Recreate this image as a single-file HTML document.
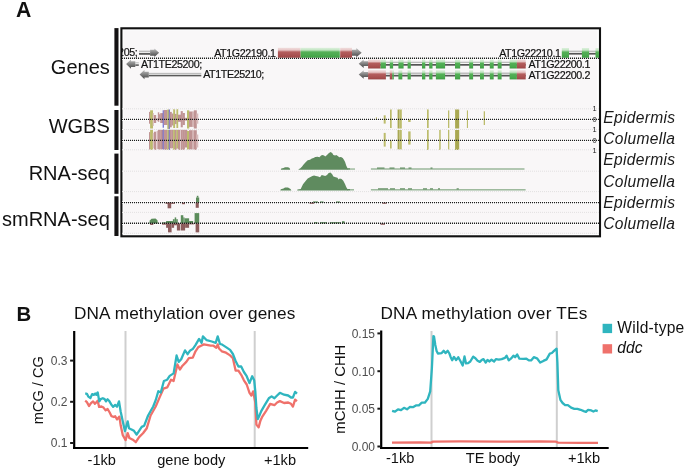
<!DOCTYPE html>
<html><head><meta charset="utf-8"><title>Figure</title>
<style>html,body{margin:0;padding:0;background:#fff;}
svg{display:block;font-family:"Liberation Sans", Arial, Helvetica, sans-serif;}</style></head>
<body><svg width="685" height="470" viewBox="0 0 685 470">
<defs>
<linearGradient id="gR" x1="0" y1="0" x2="0" y2="1">
<stop offset="0" stop-color="#f0dcdc"/><stop offset="0.22" stop-color="#e8c8c8"/>
<stop offset="0.42" stop-color="#b45e5e"/><stop offset="0.85" stop-color="#a64d4d"/><stop offset="1" stop-color="#964444"/></linearGradient>
<linearGradient id="gG" x1="0" y1="0" x2="0" y2="1">
<stop offset="0" stop-color="#dcf0dc"/><stop offset="0.22" stop-color="#c4e6c4"/>
<stop offset="0.42" stop-color="#55b058"/><stop offset="0.85" stop-color="#47a84b"/><stop offset="1" stop-color="#3a9540"/></linearGradient>
<linearGradient id="gA" x1="0" y1="0" x2="0" y2="1">
<stop offset="0" stop-color="#c4c4c4"/><stop offset="0.35" stop-color="#939393"/>
<stop offset="0.7" stop-color="#666"/><stop offset="1" stop-color="#4e4e4e"/></linearGradient>
<clipPath id="boxclip"><rect x="122" y="29" width="477" height="206"/></clipPath>
</defs>
<text x="15.9" y="16.6" font-size="21.2" font-weight="bold" fill="#111">A</text>
<text x="16.4" y="320.7" font-size="20.4" font-weight="bold" fill="#111">B</text>
<rect x="114.4" y="28.1" width="4.1" height="77.6" fill="#141213"/>
<rect x="114.4" y="110.0" width="4.1" height="40.0" fill="#141213"/>
<rect x="114.4" y="153.6" width="4.1" height="40.2" fill="#141213"/>
<rect x="114.4" y="196.3" width="4.1" height="39.7" fill="#141213"/>
<rect x="121.4" y="28.3" width="478.6" height="208" fill="#fff" stroke="#111" stroke-width="2.1"/>
<rect x="123.6" y="30.4" width="473.8" height="203.8" fill="#f9f7f8"/>
<text x="109.8" y="73.9" font-size="20.0" text-anchor="end" fill="#111">Genes</text>
<text x="109.8" y="133.2" font-size="20.0" text-anchor="end" fill="#111">WGBS</text>
<text x="109.8" y="180.0" font-size="20.0" text-anchor="end" fill="#111">RNA-seq</text>
<text x="109.8" y="225.6" font-size="20.0" text-anchor="end" fill="#111">smRNA-seq</text>
<text x="603.3" y="122.6" font-size="15.6" letter-spacing="0.3" font-style="italic" fill="#1a1a1a">Epidermis</text>
<text x="603.3" y="143.8" font-size="15.6" letter-spacing="0.3" font-style="italic" fill="#1a1a1a">Columella</text>
<text x="603.3" y="165.3" font-size="15.6" letter-spacing="0.3" font-style="italic" fill="#1a1a1a">Epidermis</text>
<text x="603.3" y="186.6" font-size="15.6" letter-spacing="0.3" font-style="italic" fill="#1a1a1a">Columella</text>
<text x="603.3" y="207.8" font-size="15.6" letter-spacing="0.3" font-style="italic" fill="#1a1a1a">Epidermis</text>
<text x="603.3" y="229.0" font-size="15.6" letter-spacing="0.3" font-style="italic" fill="#1a1a1a">Columella</text>
<line x1="122" y1="58.3" x2="599" y2="58.3" stroke="#fff" stroke-width="2.8"/>
<line x1="122" y1="119.4" x2="599" y2="119.4" stroke="#fff" stroke-width="2.8"/>
<line x1="122" y1="140.4" x2="599" y2="140.4" stroke="#fff" stroke-width="2.8"/>
<line x1="122" y1="202.6" x2="599" y2="202.6" stroke="#fff" stroke-width="2.8"/>
<line x1="122" y1="223.3" x2="599" y2="223.3" stroke="#fff" stroke-width="2.8"/>
<g clip-path="url(#boxclip)">
<rect x="149.0" y="111.9" width="1.4" height="11.8" fill="#c09494"/>
<rect x="149.0" y="132.1" width="1.4" height="17.4" fill="#c09494"/>
<rect x="150.1" y="110.3" width="2.9" height="18.2" fill="#bcbc6c"/>
<rect x="150.1" y="129.8" width="2.9" height="20.1" fill="#bcbc6c"/>
<rect x="152.7" y="113.0" width="1.1" height="13.0" fill="#d9bcbc"/>
<rect x="152.7" y="132.9" width="1.1" height="15.4" fill="#d9bcbc"/>
<rect x="153.9" y="115.0" width="2.3" height="8.0" fill="#c09494"/>
<rect x="153.9" y="131.7" width="2.3" height="18.2" fill="#c09494"/>
<rect x="156.6" y="118.0" width="1.5" height="3.0" fill="#d9bcbc"/>
<rect x="156.6" y="131.0" width="1.5" height="18.0" fill="#d9bcbc"/>
<rect x="157.8" y="112.3" width="1.5" height="9.5" fill="#c09494"/>
<rect x="157.8" y="129.8" width="1.5" height="19.7" fill="#c09494"/>
<rect x="159.0" y="114.3" width="1.5" height="5.5" fill="#c09494"/>
<rect x="159.0" y="129.8" width="1.5" height="19.7" fill="#c09494"/>
<rect x="160.2" y="113.1" width="2.9" height="9.9" fill="#c09494"/>
<rect x="160.2" y="129.8" width="2.9" height="19.7" fill="#c09494"/>
<rect x="162.70000000000002" y="110.3" width="1.1" height="17.4" fill="#5a5ad4"/>
<rect x="162.70000000000002" y="129.4" width="1.1" height="20.1" fill="#5a5ad4"/>
<rect x="163.7" y="110.0" width="3.9" height="15.0" fill="#c09494"/>
<rect x="163.7" y="129.8" width="3.9" height="20.1" fill="#c09494"/>
<rect x="167.3" y="109.5" width="1.5" height="19.4" fill="#bcbc6c"/>
<rect x="167.3" y="129.8" width="1.5" height="20.1" fill="#bcbc6c"/>
<rect x="168.5" y="109.5" width="0.7" height="19.4" fill="#a9a852"/>
<rect x="168.5" y="129.8" width="0.7" height="20.1" fill="#a9a852"/>
<rect x="168.8" y="109.5" width="1.0" height="19.4" fill="#5a5ad4"/>
<rect x="168.8" y="129.8" width="1.0" height="20.1" fill="#5a5ad4"/>
<rect x="169.7" y="111.9" width="2.1" height="15.4" fill="#c09494"/>
<rect x="169.7" y="129.8" width="2.1" height="18.5" fill="#c09494"/>
<rect x="171.5" y="113.5" width="2.0" height="12.0" fill="#c09494"/>
<rect x="171.5" y="129.8" width="2.0" height="18.5" fill="#c09494"/>
<rect x="173.2" y="109.2" width="1.9" height="18.8" fill="#bcbc6c"/>
<rect x="173.2" y="129.8" width="1.9" height="20.1" fill="#bcbc6c"/>
<rect x="174.8" y="113.9" width="1.9" height="10.2" fill="#c09494"/>
<rect x="174.8" y="129.8" width="1.9" height="20.1" fill="#c09494"/>
<rect x="176.4" y="109.2" width="1.8" height="18.8" fill="#bcbc6c"/>
<rect x="176.4" y="129.8" width="1.8" height="18.7" fill="#bcbc6c"/>
<rect x="177.9" y="114.7" width="2.3" height="7.1" fill="#c09494"/>
<rect x="177.9" y="129.8" width="2.3" height="20.1" fill="#c09494"/>
<rect x="179.9" y="114.7" width="1.1" height="7.1" fill="#c09494"/>
<rect x="179.9" y="140.0" width="1.1" height="1.0" fill="#c09494"/>
<rect x="180.7" y="111.1" width="2.1" height="16.2" fill="#c09494"/>
<rect x="180.7" y="129.8" width="2.1" height="20.1" fill="#c09494"/>
<rect x="182.5" y="113.0" width="2.4" height="12.0" fill="#c09494"/>
<rect x="182.5" y="129.8" width="2.4" height="20.1" fill="#c09494"/>
<rect x="184.6" y="117.8" width="2.7" height="2.8" fill="#c09494"/>
<rect x="184.6" y="129.8" width="2.7" height="17.7" fill="#c09494"/>
<rect x="187.0" y="110.3" width="2.3" height="18.2" fill="#bcbc6c"/>
<rect x="187.0" y="131.0" width="2.3" height="18.5" fill="#bcbc6c"/>
<rect x="189.0" y="111.5" width="3.8" height="15.4" fill="#c09494"/>
<rect x="189.0" y="130.2" width="3.8" height="19.3" fill="#c09494"/>
<rect x="192.5" y="111.5" width="1.6" height="15.4" fill="#d9bcbc"/>
<rect x="192.5" y="130.2" width="1.6" height="19.3" fill="#d9bcbc"/>
<rect x="193.8" y="110.3" width="3.0" height="18.2" fill="#c09494"/>
<rect x="193.8" y="130.2" width="3.0" height="19.7" fill="#c09494"/>
<rect x="196.5" y="113.5" width="1.8" height="10.2" fill="#d9bcbc"/>
<rect x="196.5" y="134.5" width="1.8" height="13.0" fill="#d9bcbc"/>
<rect x="375.9" y="117.2" width="0.9" height="2.3" fill="#bcbc6c"/>
<rect x="383.7" y="115.3" width="2.0" height="8.3" fill="#bcbc6c"/>
<rect x="383.7" y="132.9" width="2.0" height="13.7" fill="#bcbc6c"/>
<rect x="390.0" y="109.4" width="1.7" height="18.6" fill="#bcbc6c"/>
<rect x="390.0" y="140.7" width="1.7" height="7.8" fill="#bcbc6c"/>
<rect x="397.6" y="109.4" width="2.0" height="19.1" fill="#a9a852"/>
<rect x="397.6" y="130.0" width="2.0" height="19.5" fill="#a9a852"/>
<rect x="399.6" y="109.4" width="2.2" height="19.1" fill="#bcbc6c"/>
<rect x="399.6" y="130.0" width="2.2" height="19.5" fill="#bcbc6c"/>
<rect x="408.2" y="119.6" width="2.4" height="2.4" fill="#bcbc6c"/>
<rect x="408.2" y="131.4" width="2.4" height="13.2" fill="#bcbc6c"/>
<rect x="427.0" y="109.4" width="1.7" height="18.6" fill="#bcbc6c"/>
<rect x="427.0" y="130.0" width="1.7" height="20.0" fill="#bcbc6c"/>
<rect x="439.2" y="130.0" width="1.5" height="20.0" fill="#bcbc6c"/>
<rect x="448.0" y="110.4" width="1.3" height="17.6" fill="#bcbc6c"/>
<rect x="448.0" y="130.0" width="1.3" height="20.0" fill="#bcbc6c"/>
<rect x="455.1" y="109.4" width="4.1" height="19.1" fill="#a9a852"/>
<rect x="455.1" y="130.0" width="4.1" height="20.0" fill="#a9a852"/>
<rect x="466.9" y="110.4" width="1.1" height="17.6" fill="#bcbc6c"/>
<rect x="483.7" y="111.3" width="1.3" height="13.7" fill="#bcbc6c"/>
<polygon points="298.4,169.7 298.9,169 300.1,168.4 301.9,166.7 303.6,164.4 305.4,162.6 307.7,160.3 310,159.7 311.8,158.5 313.5,157.9 315.3,157.1 317.6,156.8 319.4,157.3 321.1,155.6 322.3,155 324.1,155.6 325.2,156.4 327,155 328.7,153.3 330.5,152.1 332.2,152.9 333.4,155 335.1,155.6 336.3,155 338.1,156.2 339.2,157.3 341,157.1 342.7,157.9 343.9,159.7 345.1,162 346.2,165.5 347.4,167.9 347.6,169.7" fill="#5f8b5f"/>
<polygon points="297.2,190.5 297.4,189.5 300.7,188.9 301.9,186.5 303,184.2 305.4,181.3 307.7,178.4 310,177.2 312.4,176 314.1,175.4 315.9,176 318.2,176.6 320,177.2 321.7,174.9 323.5,175.4 325.2,176 327,174.9 328.7,173.1 330.5,172.5 332.2,174.3 333.4,176.6 335.7,177.2 337.5,177.8 338.6,179.5 339.8,178.6 341.6,179 343.3,180.7 345.1,184.2 346.2,187.1 347.4,188.9 347.6,190.5" fill="#5f8b5f"/>
<polygon points="280.8,169.7 281.2,168.4 283.5,167.9 285,167.2 288,167.2 289.6,168.1 290.2,169.7" fill="#5f8b5f"/>
<polygon points="280.3,190.5 280.8,189.2 283.5,188.6 285,187.6 288,187.6 290.5,189 291.4,190.5" fill="#5f8b5f"/>
<rect x="347" y="168.2" width="3" height="1.5" fill="#5f8b5f"/>
<rect x="350" y="168.4" width="5" height="1.3" fill="#94b394"/>
<rect x="347" y="189" width="3" height="1.5" fill="#5f8b5f"/>
<rect x="350" y="189.1" width="4" height="1.4" fill="#94b394"/>
<rect x="370.9" y="168.3" width="153.6" height="1.4" fill="#94b394"/>
<rect x="370.9" y="189.1" width="154.7" height="1.4" fill="#94b394"/>
<rect x="377" y="167.5" width="7.5" height="1.2" fill="#5f8b5f"/>
<rect x="389.5" y="167.5" width="5.0" height="1.2" fill="#5f8b5f"/>
<rect x="400" y="167.5" width="5.0" height="1.2" fill="#5f8b5f"/>
<rect x="408.5" y="167.5" width="3.0" height="1.2" fill="#5f8b5f"/>
<rect x="430.5" y="167.5" width="2.0" height="1.2" fill="#5f8b5f"/>
<rect x="378" y="188.3" width="10.0" height="1.2" fill="#5f8b5f"/>
<rect x="390" y="188.3" width="5.0" height="1.2" fill="#5f8b5f"/>
<rect x="400" y="188.3" width="5.0" height="1.2" fill="#5f8b5f"/>
<rect x="408" y="188.3" width="4.0" height="1.2" fill="#5f8b5f"/>
<rect x="423" y="188.3" width="4.0" height="1.2" fill="#5f8b5f"/>
<rect x="430" y="188.3" width="3.0" height="1.2" fill="#5f8b5f"/>
<rect x="438" y="188.3" width="2.0" height="1.2" fill="#5f8b5f"/>
<rect x="456.6" y="188.3" width="2.2" height="1.2" fill="#5f8b5f"/>
<rect x="196.0" y="197.5" width="3.2" height="5.1" fill="#5b8c5b"/>
<rect x="196.8" y="195.8" width="1.6" height="1.8" fill="#5b8c5b"/>
<rect x="167.6" y="202.6" width="3.6" height="5.7" fill="#8c5c5c"/>
<rect x="165.5" y="202.6" width="9.5" height="1.2" fill="#8c5c5c"/>
<rect x="181.9" y="202.6" width="3.1" height="1.6" fill="#8c5c5c"/>
<rect x="195.7" y="202.6" width="3.1" height="5.2" fill="#8c5c5c"/>
<rect x="313" y="201.4" width="5.0" height="1.2" fill="#5b8c5b"/>
<rect x="320" y="201.4" width="3.6" height="1.2" fill="#5b8c5b"/>
<rect x="336" y="201.4" width="4.0" height="1.2" fill="#5b8c5b"/>
<rect x="309.6" y="202.6" width="4.4" height="1.2" fill="#8c5c5c"/>
<rect x="382.3" y="202.6" width="4.4" height="1.2" fill="#8c5c5c"/>
<polygon points="149.2,223.4 149.8,220.5 151.5,218.8 155.5,218.6 157.5,220.3 157.9,223.4" fill="#5b8c5b"/>
<rect x="150.2" y="223.4" width="3.1" height="1.6" fill="#8c5c5c"/>
<rect x="162.1" y="222.3" width="4.0" height="1.1" fill="#5b8c5b"/>
<rect x="166.1" y="221.0" width="6.8" height="2.4" fill="#5b8c5b"/>
<rect x="172.9" y="219.2" width="1.8" height="4.2" fill="#5b8c5b"/>
<rect x="174.7" y="217.4" width="1.5" height="6.0" fill="#5b8c5b"/>
<rect x="176.2" y="219.2" width="1.6" height="4.2" fill="#5b8c5b"/>
<rect x="180.8" y="215.2" width="2.5" height="8.2" fill="#5b8c5b"/>
<rect x="183.3" y="217.4" width="1.2" height="6.0" fill="#5b8c5b"/>
<rect x="184.5" y="218.3" width="4.6" height="5.1" fill="#5b8c5b"/>
<rect x="189.1" y="221.0" width="4.0" height="2.4" fill="#5b8c5b"/>
<rect x="194.6" y="213.1" width="4.6" height="10.3" fill="#5b8c5b"/>
<rect x="162.1" y="223.4" width="4.0" height="1.3" fill="#8c5c5c"/>
<rect x="166.1" y="223.4" width="1.9" height="4.4" fill="#8c5c5c"/>
<rect x="168.0" y="223.4" width="3.6" height="9.0" fill="#8c5c5c"/>
<rect x="171.6" y="223.4" width="2.5" height="4.4" fill="#8c5c5c"/>
<rect x="174.1" y="223.4" width="2.8" height="1.9" fill="#8c5c5c"/>
<rect x="176.9" y="223.4" width="3.3" height="7.1" fill="#8c5c5c"/>
<rect x="180.8" y="223.4" width="4.3" height="7.1" fill="#8c5c5c"/>
<rect x="185.1" y="223.4" width="4.0" height="4.4" fill="#8c5c5c"/>
<rect x="189.1" y="223.4" width="5.2" height="1.0" fill="#8c5c5c"/>
<rect x="195.6" y="223.4" width="3.6" height="9.0" fill="#8c5c5c"/>
<rect x="314" y="222.2" width="3.5" height="1.2" fill="#5b8c5b"/>
<rect x="320" y="222.2" width="7.0" height="1.2" fill="#5b8c5b"/>
<rect x="329.8" y="222.2" width="11.2" height="1.2" fill="#5b8c5b"/>
<rect x="342" y="221.2" width="2.6" height="2.2" fill="#5b8c5b"/>
<rect x="380.5" y="223.4" width="4.5" height="1.4" fill="#8c5c5c"/>
</g>
<line x1="122" y1="108.8" x2="599" y2="108.8" stroke="#e2e0e1" stroke-width="1" stroke-dasharray="1 1"/>
<line x1="122" y1="129.5" x2="599" y2="129.5" stroke="#e2e0e1" stroke-width="1" stroke-dasharray="1 1"/>
<line x1="122" y1="149.8" x2="599" y2="149.8" stroke="#e2e0e1" stroke-width="1" stroke-dasharray="1 1"/>
<line x1="122" y1="171.2" x2="599" y2="171.2" stroke="#e2e0e1" stroke-width="1" stroke-dasharray="1 1"/>
<line x1="122" y1="191.6" x2="599" y2="191.6" stroke="#e2e0e1" stroke-width="1" stroke-dasharray="1 1"/>
<line x1="122" y1="212.4" x2="599" y2="212.4" stroke="#e2e0e1" stroke-width="1" stroke-dasharray="1 1"/>
<line x1="122" y1="233.3" x2="599" y2="233.3" stroke="#e2e0e1" stroke-width="1" stroke-dasharray="1 1"/>
<line x1="122" y1="58.3" x2="599" y2="58.3" stroke="#1c1c1c" stroke-width="1.4" stroke-dasharray="1.1 0.9"/>
<line x1="122" y1="119.4" x2="599" y2="119.4" stroke="#1c1c1c" stroke-width="1.4" stroke-dasharray="1.1 0.9"/>
<line x1="122" y1="140.4" x2="599" y2="140.4" stroke="#1c1c1c" stroke-width="1.4" stroke-dasharray="1.1 0.9"/>
<line x1="122" y1="202.6" x2="599" y2="202.6" stroke="#1c1c1c" stroke-width="1.4" stroke-dasharray="1.1 0.9"/>
<line x1="122" y1="223.3" x2="599" y2="223.3" stroke="#1c1c1c" stroke-width="1.4" stroke-dasharray="1.1 0.9"/>
<text x="596.6" y="110.6" font-size="7.4" text-anchor="end" fill="#222">1</text>
<text x="596.6" y="122.0" font-size="7.4" text-anchor="end" fill="#222">0</text>
<text x="596.6" y="131.8" font-size="7.4" text-anchor="end" fill="#222">1</text>
<text x="596.6" y="143.0" font-size="7.4" text-anchor="end" fill="#222">0</text>
<text x="596.6" y="152.6" font-size="7.4" text-anchor="end" fill="#222">1</text>
<g clip-path="url(#boxclip)">
<text x="137.3" y="56.3" font-size="10.7" letter-spacing="-0.4" fill="#111" stroke="#111" stroke-width="0.2" text-anchor="end">AT1TE25205;</text>
<rect x="139.0" y="50.60" width="11.1" height="1.43" fill="#bdbdbd"/><rect x="139.0" y="52.03" width="11.1" height="0.92" fill="#f4f4f4"/><rect x="139.0" y="52.95" width="11.1" height="1.85" fill="#5a5a5a"/><polygon points="159.1,52.7 154.4,48.5 154.4,49.8 150.1,49.8 150.1,55.7 154.4,55.7 154.4,56.9" fill="url(#gA)"/>
<rect x="135.3" y="62.30" width="3.5" height="1.22" fill="#bdbdbd"/><rect x="135.3" y="63.52" width="3.5" height="0.79" fill="#f4f4f4"/><rect x="135.3" y="64.32" width="3.5" height="1.58" fill="#5a5a5a"/><polygon points="126.1,64.1 131.0,59.5 131.0,61.2 135.3,61.2 135.3,67.0 131.0,67.0 131.0,68.7" fill="url(#gA)"/>
<text x="141.0" y="67.7" font-size="10.7" letter-spacing="-0.4" fill="#111" stroke="#111" stroke-width="0.2">AT1TE25200;</text>
<rect x="148.8" y="72.85" width="52.5" height="1.19" fill="#bdbdbd"/><rect x="148.8" y="74.04" width="52.5" height="0.77" fill="#f4f4f4"/><rect x="148.8" y="74.81" width="52.5" height="1.54" fill="#5a5a5a"/><polygon points="139.6,74.6 144.5,69.8 144.5,71.8 148.8,71.8 148.8,77.4 144.5,77.4 144.5,79.3" fill="url(#gA)"/>
<text x="203.2" y="78.1" font-size="10.7" letter-spacing="-0.4" fill="#111" stroke="#111" stroke-width="0.2">AT1TE25210;</text>
<text x="275.5" y="57.0" font-size="10.7" letter-spacing="-0.4" fill="#111" stroke="#111" stroke-width="0.2" text-anchor="end">AT1G22190.1</text>
<rect x="277.9" y="47.8" width="22.7" height="9.9" fill="url(#gR)"/>
<rect x="300.6" y="47.8" width="39.2" height="9.9" fill="url(#gG)"/>
<rect x="340.2" y="47.8" width="11.8" height="9.9" fill="url(#gR)"/>
<polygon points="361.7,52.7 356.3,48.1 356.3,49.7 352.0,49.7 352.0,55.7 356.3,55.7 356.3,57.3" fill="url(#gA)"/>
<rect x="368.0" y="61.7" width="157.7" height="1.5" fill="#bdbdbd"/><rect x="368.0" y="63.2" width="157.7" height="0.8" fill="#fafafa"/><rect x="368.0" y="64.0" width="157.7" height="1.7" fill="#555"/>
<polygon points="358.7,63.7 363.7,59.5 363.7,61.3 368.2,61.3 368.2,66.1 363.7,66.1 363.7,67.9" fill="url(#gA)"/>
<rect x="368.1" y="59.5" width="12.5" height="9.0" fill="url(#gR)"/>
<rect x="380.6" y="59.5" width="5.3" height="9.0" fill="url(#gG)"/>
<rect x="389.8" y="59.5" width="3.3" height="9.0" fill="url(#gG)"/>
<rect x="398.4" y="59.5" width="5.2" height="9.0" fill="url(#gG)"/>
<rect x="407.6" y="59.5" width="3.2" height="9.0" fill="url(#gG)"/>
<rect x="422.0" y="59.5" width="3.3" height="9.0" fill="url(#gG)"/>
<rect x="429.2" y="59.5" width="3.3" height="9.0" fill="url(#gG)"/>
<rect x="435.9" y="59.5" width="9.2" height="9.0" fill="url(#gG)"/>
<rect x="455.0" y="59.5" width="5.2" height="9.0" fill="url(#gG)"/>
<rect x="469.2" y="59.5" width="3.9" height="9.0" fill="url(#gG)"/>
<rect x="480.0" y="59.5" width="3.9" height="9.0" fill="url(#gG)"/>
<rect x="489.8" y="59.5" width="3.9" height="9.0" fill="url(#gG)"/>
<rect x="497.7" y="59.5" width="3.9" height="9.0" fill="url(#gG)"/>
<rect x="509.6" y="59.5" width="7.3" height="9.0" fill="url(#gG)"/>
<rect x="516.9" y="59.5" width="8.8" height="9.0" fill="url(#gR)"/>
<rect x="368.0" y="72.5" width="157.7" height="1.5" fill="#bdbdbd"/><rect x="368.0" y="74.0" width="157.7" height="0.8" fill="#fafafa"/><rect x="368.0" y="74.8" width="157.7" height="1.7" fill="#555"/>
<polygon points="358.7,74.5 363.7,70.3 363.7,72.1 368.2,72.1 368.2,76.9 363.7,76.9 363.7,78.7" fill="url(#gA)"/>
<rect x="368.1" y="70.2" width="17.8" height="9.2" fill="url(#gR)"/>
<rect x="389.8" y="70.2" width="2.5" height="9.2" fill="url(#gR)"/>
<rect x="392.3" y="70.2" width="1.5" height="9.2" fill="url(#gG)"/>
<rect x="398.4" y="70.2" width="3.9" height="9.2" fill="url(#gG)"/>
<rect x="407.6" y="70.2" width="3.2" height="9.2" fill="url(#gG)"/>
<rect x="422.0" y="70.2" width="3.3" height="9.2" fill="url(#gG)"/>
<rect x="429.2" y="70.2" width="3.3" height="9.2" fill="url(#gG)"/>
<rect x="435.9" y="70.2" width="9.2" height="9.2" fill="url(#gG)"/>
<rect x="455.0" y="70.2" width="5.2" height="9.2" fill="url(#gG)"/>
<rect x="469.2" y="70.2" width="3.9" height="9.2" fill="url(#gG)"/>
<rect x="480.0" y="70.2" width="3.9" height="9.2" fill="url(#gG)"/>
<rect x="489.8" y="70.2" width="3.9" height="9.2" fill="url(#gG)"/>
<rect x="497.7" y="70.2" width="3.9" height="9.2" fill="url(#gG)"/>
<rect x="509.6" y="70.2" width="7.3" height="9.2" fill="url(#gG)"/>
<rect x="516.9" y="70.2" width="8.8" height="9.2" fill="url(#gR)"/>
<text x="528.6" y="67.6" font-size="10.7" letter-spacing="-0.4" fill="#111" stroke="#111" stroke-width="0.2">AT1G22200.1</text>
<text x="528.6" y="78.5" font-size="10.7" letter-spacing="-0.4" fill="#111" stroke="#111" stroke-width="0.2">AT1G22200.2</text>
<text x="560.5" y="56.9" font-size="10.7" letter-spacing="-0.4" fill="#111" stroke="#111" stroke-width="0.2" text-anchor="end">AT1G22210.1</text>
<rect x="562.0" y="50.6" width="37.5" height="1.5" fill="#bdbdbd"/><rect x="562.0" y="52.1" width="37.5" height="0.8" fill="#fafafa"/><rect x="562.0" y="52.9" width="37.5" height="1.7" fill="#555"/>
<rect x="561.8" y="48.0" width="7.2" height="9.7" fill="url(#gG)"/>
<rect x="581.9" y="48.0" width="7.2" height="9.7" fill="url(#gG)"/>
<rect x="595.5" y="48.0" width="4.5" height="9.7" fill="url(#gG)"/>
</g>
<text x="74.0" y="318.8" font-size="17.2" letter-spacing="0.14" fill="#111">DNA methylation over genes</text>
<line x1="125.5" y1="331" x2="125.5" y2="447" stroke="#cfcfcf" stroke-width="2"/>
<line x1="254.7" y1="331" x2="254.7" y2="447" stroke="#cfcfcf" stroke-width="2"/>
<polyline fill="none" stroke="#ef716b" stroke-width="2.3" stroke-linejoin="round" points="85.2,400.7 86.9,402.1 89,406 91,403.2 93.1,401.4 94.9,403.8 96.3,402.4 97.7,400.7 99.1,406.9 101.4,406.5 103.5,407.6 105.6,410.4 107.6,409 109.7,412.5 111.5,416.2 113.8,417 115.2,416.2 117,419.4 119.4,416.6 120.7,425.6 122.8,435.2 125.6,440.1 127.7,433.2 129.4,438 132.8,439.7 135.8,442.2 139.1,437.1 143,433.3 146.8,428.2 150.6,415.5 155.7,406.5 159.5,397.6 163.4,388.7 167.2,387.4 171,379.7 173.6,381 177.4,364.4 179.9,369.5 182.5,365.7 186.3,361.9 188.9,358.1 192.8,357.6 195.5,351.3 198.3,347.1 201.1,345.7 203.8,344.4 206.6,344.9 210.7,345.7 213.5,345.7 216.3,347.7 217.7,344.4 219,348.5 221.8,351.3 226,352.7 230.1,355.4 232.9,358.2 235.6,370.6 238.4,370.6 241.2,374.8 243.9,380.3 246.7,384.5 249.5,392.8 251.4,395.5 253.1,391.4 255.3,402.5 256.4,424.6 258.6,427.4 260.5,420.4 262.5,416.3 266.1,410.8 270.2,403.8 274.4,405.2 277.1,402.5 279.9,401.1 284.1,403 288.2,402.5 291,403.8 292.9,406.6 295.1,399.7 297,401.1"/>
<polyline fill="none" stroke="#2fb5bf" stroke-width="2.3" stroke-linejoin="round" points="85.2,393.4 86.9,393.8 88.3,396.6 90.4,398 92.2,394.1 93.8,394.9 95.2,393.5 96.3,394.9 97.7,392.4 99.3,401.4 100.7,399.1 102.8,398.2 104.6,399.1 106,401.4 107.6,399.3 109,400.7 111.1,404.2 113.1,406.9 115.2,404.9 117,406.7 119,401.4 120.7,411.8 122.8,421.4 124.9,431.1 126.3,426.3 127.7,421.4 129,428.3 131.5,429.5 134,430.8 136.6,434.6 139.1,430.8 141.7,426.9 144.2,425.7 148.1,415.5 153.2,406.5 155.7,400.2 158.3,391.2 160.8,392.5 163.9,381 167.2,379.7 169.7,375.9 173.6,373.4 176.6,355.5 178.7,361.9 181.2,359.3 185,350.4 187.6,354.2 190.2,350.4 192.7,349.1 195.3,345.3 199.1,338.9 201.6,342.8 202.9,336.4 206.7,340.2 211.8,341.5 215.7,342.8 217.7,336.4 220,344 221.8,344.4 226,347.1 230.1,349.9 232.9,354 235.6,361 238.4,366.5 241.2,366.5 243.9,372 246.7,376.2 249.5,383.1 252.2,376.2 254.2,380.3 255.3,391.4 256.4,408 257.8,419 259.7,414.9 261.4,410.8 264.7,405.2 268.8,398.3 271.6,396.4 274.4,398.3 277.1,395.5 279.9,392.8 284.1,394.7 288.2,395.5 291,397.5 292.9,397.5 295.1,391.9 297,393.6"/>
<line x1="74.2" y1="331" x2="74.2" y2="449" stroke="#000" stroke-width="2.2"/>
<line x1="73.1" y1="448" x2="308.2" y2="448" stroke="#000" stroke-width="2.2"/>
<line x1="70.1" y1="360.6" x2="73.2" y2="360.6" stroke="#1a1a1a" stroke-width="2"/>
<text x="67.5" y="364.9" font-size="12" fill="#4d4d4d" text-anchor="end">0.3</text>
<line x1="70.1" y1="401.8" x2="73.2" y2="401.8" stroke="#1a1a1a" stroke-width="2"/>
<text x="67.5" y="406.1" font-size="12" fill="#4d4d4d" text-anchor="end">0.2</text>
<line x1="70.1" y1="443.0" x2="73.2" y2="443.0" stroke="#1a1a1a" stroke-width="2"/>
<text x="67.5" y="447.3" font-size="12" fill="#4d4d4d" text-anchor="end">0.1</text>
<text x="101.8" y="465.0" font-size="14.6" fill="#111" text-anchor="middle">-1kb</text>
<text x="191.3" y="465.0" font-size="14.6" fill="#111" text-anchor="middle">gene body</text>
<text x="280.0" y="465.0" font-size="14.6" fill="#111" text-anchor="middle">+1kb</text>
<text transform="translate(43.4,390.2) rotate(-90)" font-size="14.6" fill="#111" text-anchor="middle">mCG / CG</text>
<text x="380.4" y="319.0" font-size="17.2" letter-spacing="0.25" fill="#111">DNA methylation over TEs</text>
<line x1="431.5" y1="331" x2="431.5" y2="447" stroke="#cfcfcf" stroke-width="2"/>
<line x1="556.8" y1="331" x2="556.8" y2="447" stroke="#cfcfcf" stroke-width="2"/>
<polyline fill="none" stroke="#ef716b" stroke-width="2.3" stroke-linejoin="round" points="392,442.7 420,442.5 431,442.6 433,441.6 460,441.4 500,441.6 540,441.5 556,441.7 558,442.6 580,442.8 598,442.8"/>
<polyline fill="none" stroke="#2fb5bf" stroke-width="2.3" stroke-linejoin="round" points="392.1,410.8 395,411.7 398,409.3 401,410.2 404,407.8 407,409.3 410,406.9 412.9,407.2 415.9,405.4 418.9,405.4 421.8,402.7 424.8,402.7 427.8,398.9 430.2,391.4 431.9,368 432.8,349.3 433.4,336.1 434,336.5 435.3,345 436.6,351 437.9,353.5 441.7,353.1 443.7,350.8 445.5,353.1 447.7,350.8 449.4,353.5 450.6,356.9 452.2,360.3 454,356.9 456.1,360.1 458.3,357.2 460.5,361.2 462.7,365.5 464.5,356.4 466,363.4 468.1,363.2 470.3,361.5 473.2,356.6 475.4,358.2 477.6,360.8 479.8,361.9 481.6,360.1 483.5,359.1 485.7,362.6 487.5,359.9 489.3,361.5 491.5,359.7 494.1,361.5 495.9,359.1 498.8,359.7 501.7,359.1 505,357.9 506.6,355.7 508.7,360.4 510.9,358.7 513.4,355.7 515.1,357.2 517.2,354.5 519.4,358.7 523.2,358.9 526.4,358.7 528.9,360.4 531.1,360.4 533.8,357.2 537,358.3 540.2,362.6 543.4,360.9 546.6,359.4 549.8,353.6 551.9,353 554,350.9 556.6,348.7 557.4,362.6 558.3,390.2 560.4,399.8 562.6,403 565.1,405.1 567.9,405.1 571.1,407.7 574.3,408.9 577.4,408.9 580.6,409.8 583.8,411.1 586,411.9 588.1,409.8 591.3,410.4 593.4,411.5 595.5,410.4 597.7,411.1"/>
<line x1="381.2" y1="330.5" x2="381.2" y2="449" stroke="#000" stroke-width="2.2"/>
<line x1="380.1" y1="448" x2="608.7" y2="448" stroke="#000" stroke-width="2.2"/>
<line x1="377.4" y1="333.4" x2="380.2" y2="333.4" stroke="#1a1a1a" stroke-width="2"/>
<text x="375.0" y="337.7" font-size="12" fill="#4d4d4d" text-anchor="end">0.15</text>
<line x1="377.4" y1="371.2" x2="380.2" y2="371.2" stroke="#1a1a1a" stroke-width="2"/>
<text x="375.0" y="375.5" font-size="12" fill="#4d4d4d" text-anchor="end">0.10</text>
<line x1="377.4" y1="408.7" x2="380.2" y2="408.7" stroke="#1a1a1a" stroke-width="2"/>
<text x="375.0" y="413.0" font-size="12" fill="#4d4d4d" text-anchor="end">0.05</text>
<line x1="377.4" y1="446.5" x2="380.2" y2="446.5" stroke="#1a1a1a" stroke-width="2"/>
<text x="375.0" y="450.8" font-size="12" fill="#4d4d4d" text-anchor="end">0.00</text>
<text x="400.2" y="462.6" font-size="14.6" fill="#111" text-anchor="middle">-1kb</text>
<text x="493.0" y="462.6" font-size="14.6" fill="#111" text-anchor="middle">TE body</text>
<text x="584.0" y="462.6" font-size="14.6" fill="#111" text-anchor="middle">+1kb</text>
<text transform="translate(345.0,389.2) rotate(-90)" font-size="14.85" fill="#111" text-anchor="middle">mCHH / CHH</text>
<rect x="602.6" y="323.8" width="9.5" height="9.3" fill="#2fb5bf"/>
<rect x="602.6" y="344.2" width="9.5" height="9.3" fill="#ef716b"/>
<text x="617.3" y="333.0" font-size="15.6" letter-spacing="0.25" fill="#111">Wild-type</text>
<text x="617.3" y="353.4" font-size="15.6" font-style="italic" fill="#111">ddc</text>
</svg></body></html>
